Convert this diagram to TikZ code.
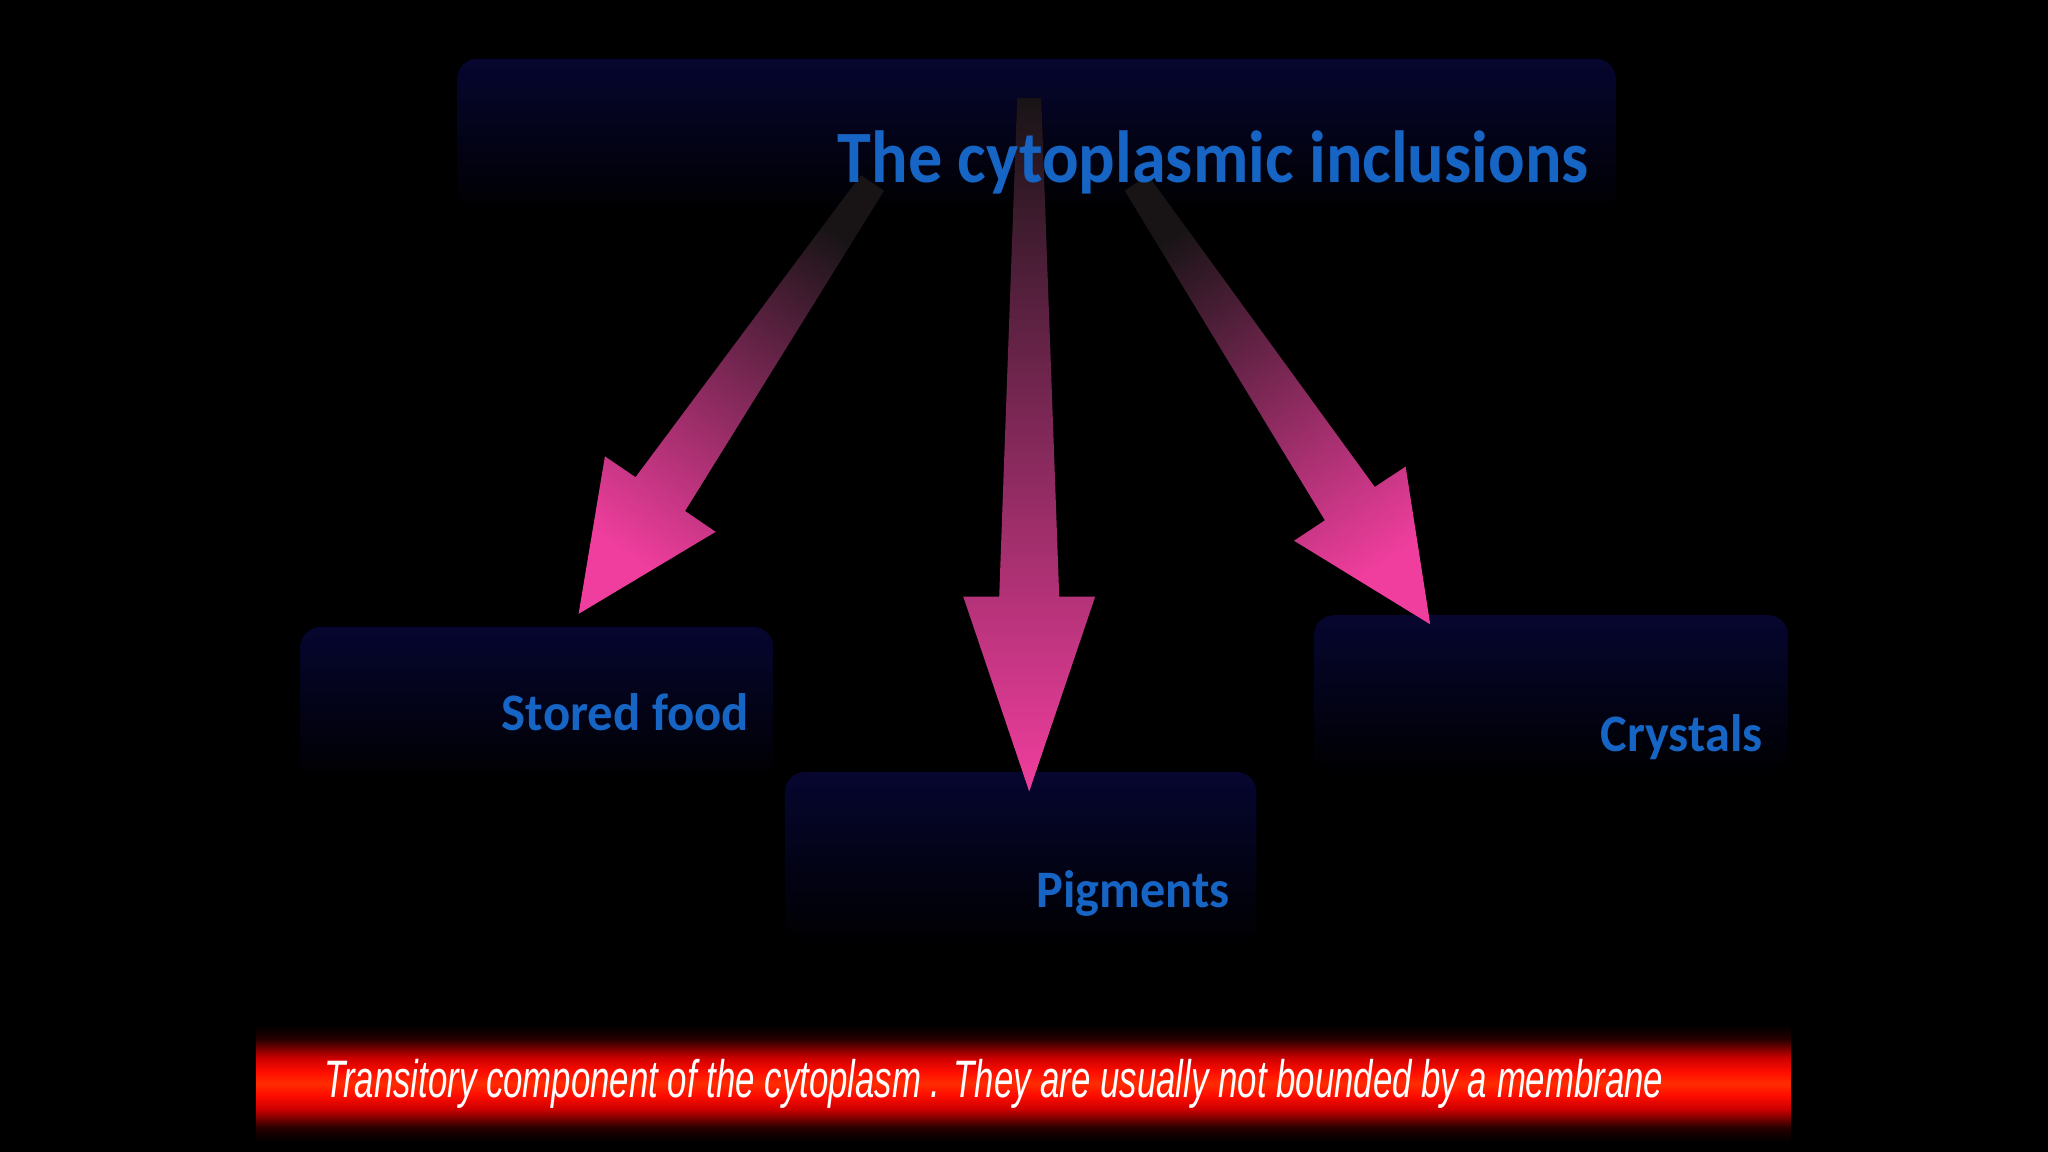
\documentclass[tikz,border=0pt]{standalone}
\usepackage{fontspec}
\setmainfont{Carlito}
\newfontfamily\barfont{Liberation Sans}
\usetikzlibrary{calc}
\definecolor{lblue}{RGB}{22,100,196}
\definecolor{navy}{RGB}{6,6,48}
\definecolor{pinktip}{RGB}{240,62,158}
\definecolor{darkshaft}{RGB}{24,20,22}
\pgfdeclareverticalshading{barshade}{100bp}{
  color(0bp)=(black); color(25bp)=(black); color(31bp)=(black!85!red); color(39bp)=(red!80!black);
  color(45bp)=(red!90!orange); color(50bp)=(red!65!orange); color(55bp)=(red!90!orange);
  color(61bp)=(red!80!black); color(69bp)=(black!85!red); color(75bp)=(black); color(100bp)=(black)}
\tikzset{
  box/.style={rounded corners=0.2cm, top color=navy, bottom color=black},
  lbl/.style={text=lblue, font=\bfseries, inner sep=0pt},
}
\newcommand{\myarrow}[7]{% start, end, headlen(cm), shaft hw start, shaft hw end, head hw, shading angle
  \coordinate (hb) at ($(#2)!#3cm!(#1)$);
  \fill[shading=axis, top color=darkshaft, bottom color=pinktip, shading angle=#7]
    ($(#1)!#4cm!90:(#2)$) -- ($(hb)!#5cm!-90:(#1)$) -- ($(hb)!#6cm!-90:(#1)$) -- (#2)
    -- ($(hb)!#6cm!90:(#1)$) -- ($(hb)!#5cm!90:(#1)$) -- ($(#1)!#4cm!-90:(#2)$) -- cycle;}
\begin{document}
\begin{tikzpicture}[x=0.0130612cm, y=-0.0130612cm]
\fill[black] (0,0) rectangle (1568,882);
\useasboundingbox (0,0) rectangle (1568,882);
% boxes
\fill[box] (350,45) rectangle (1237,165);
\fill[box] (230,480) rectangle (592,600);
\fill[box] (601,591) rectangle (962,725);
\fill[box] (1006,471) rectangle (1369,595);
% arrows
\coordinate (ls) at (668,140); \coordinate (le) at (443,470);
\coordinate (ms) at (788,75);  \coordinate (me) at (788,606);
\coordinate (rs) at (870,140); \coordinate (re) at (1095,478);
\myarrow{ls}{le}{1.45}{0.14}{0.3}{0.67}{-34}
\myarrow{ms}{me}{1.95}{0.12}{0.3}{0.66}{0}
\myarrow{rs}{re}{1.45}{0.14}{0.3}{0.67}{34}
% labels
\node[lbl, anchor=east] (title) at (1217,124) {\resizebox{7.51cm}{\height}{\fontsize{21}{25}\selectfont The cytoplasmic inclusions}};
\node[lbl, anchor=east] (food) at (574,545) {\resizebox{2.47cm}{\height}{\fontsize{15}{18}\selectfont Stored food}};
\node[lbl, anchor=east] (pig) at (942,684) {\resizebox{1.93cm}{\height}{\fontsize{15}{18}\selectfont Pigments}};
\node[lbl, anchor=east] (cry) at (1350,564) {\resizebox{1.62cm}{\height}{\fontsize{15}{18}\selectfont Crystals}};
% bottom bar
\shade[shading=barshade] (196,785) rectangle (1371,874);
\node[text=white, inner sep=0pt] (bar) at (761,830) {\resizebox{13.39cm}{\height}{\barfont\itshape\fontsize{15}{18}\selectfont Transitory component of the cytoplasm . They are usually not bounded by a membrane}};
\end{tikzpicture}
\end{document}
